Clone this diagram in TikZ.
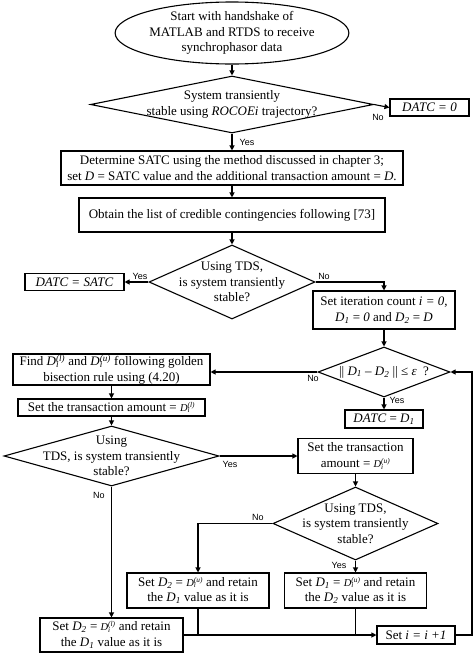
\documentclass[tikz,border=0pt]{standalone}
\usepackage{fontspec}
\setmainfont{Liberation Serif}
\newfontfamily\labfont{Liberation Sans}
\usetikzlibrary{shapes.geometric,arrows.meta}
\newcommand\DD[1]{\textit{D}\textsubscript{\textit{#1}}}
\newcommand\Di[1]{\textit{D}\rlap{\textsubscript{\textit{i}}}\textsuperscript{\textit{(#1)}}}
\newcommand\Dis[1]{{\fontsize{10.5}{12}\selectfont\Di{#1}}}
\tikzset{
  base/.style={draw=black, line width=1.1pt, inner sep=0pt, align=center,
    font=\fontsize{13}{15.5}\selectfont},
  boxn/.style={base, rectangle},
  ell/.style={base, ellipse},
  dia/.style={draw=black, line width=1.1pt, diamond, inner sep=0pt},
  txt/.style={inner sep=0pt, align=center, font=\fontsize{13}{15.5}\selectfont},
  lab/.style={inner sep=0pt, font=\labfont\fontsize{9}{10}\selectfont},
  arr/.style={line width=1.1pt, -{Triangle[length=5pt,width=5pt]}},
  ln/.style={line width=1.1pt},
}
\begin{document}
\begin{tikzpicture}[x=1pt,y=-1pt]
\useasboundingbox (0,0) rectangle (474,654);
% nodes
\node[ell, minimum width=210pt, minimum height=62pt] (start) at (232,33)
  {Start with handshake of\\MATLAB and RTDS to receive\\synchrophasor data};
\node[dia, minimum width=283pt, minimum height=57pt] (d1) at (232,104.5) {};
\node[txt] (t1) at (232,104.5) {System transiently\\stable using \textit{ROCOEi} trajectory?};
\node[boxn, minimum width=79pt, minimum height=17pt] (datc0) at (429.5,107.5) {\textit{DATC = 0}};
\node[boxn, minimum width=342pt, minimum height=34pt] (satc) at (232,168)
  {Determine SATC using the method discussed in chapter 3;\\set \textit{D} = SATC value and the additional transaction amount = \textit{D}.};
\node[boxn, minimum width=306pt, minimum height=34pt] (list) at (232,215)
  {Obtain the list of credible contingencies following [73]};
\node[dia, minimum width=166pt, minimum height=74pt] (d2) at (232,282) {};
\node[txt] (t2) at (232,282) {Using TDS,\\is system transiently\\stable?};
\node[boxn, minimum width=99pt, minimum height=17pt] (datcsatc) at (74.5,282) {\textit{DATC = SATC}};
\node[boxn, minimum width=142pt, minimum height=38pt] (iter) at (384,310)
  {Set iteration count \textit{i = 0},\\\DD{1} = \textit{0} and \DD{2} = \textit{D}};
\node[dia, minimum width=132pt, minimum height=50pt] (d3) at (384,372) {};
\node[txt] (t3) at (384,372) {|| \DD{1} -- \DD{2} || ≤ \textit{ε}\ \ ?};
\node[boxn, minimum width=78pt, minimum height=18pt] (datcd1) at (384,419) {\textit{DATC} = \DD{1}};
\node[boxn, minimum width=197pt, minimum height=31pt] (find) at (111.5,369.5)
  {Find \Di{l} and \Di{u} following golden\\bisection rule using (4.20)};
\node[boxn, minimum width=187pt, minimum height=17pt] (setl) at (111.5,407.5)
  {Set the transaction amount = \Dis{l}};
\node[dia, minimum width=215pt, minimum height=60pt] (d4) at (111.5,456) {};
\node[txt] (t4) at (111.5,456) {Using\\TDS, is system transiently\\stable?};
\node[boxn, minimum width=115pt, minimum height=35pt] (setu) at (355.5,456)
  {Set the transaction\\amount = \Dis{u}};
\node[dia, minimum width=165pt, minimum height=73pt] (d5) at (355.5,523.5) {};
\node[txt] (t5) at (355.5,523.5) {Using TDS,\\is system transiently\\stable?};
\node[boxn, minimum width=142pt, minimum height=35pt] (setd2u) at (198,590.5)
  {Set \DD{2} = \Dis{u} and retain\\the \DD{1} value as it is};
\node[boxn, minimum width=142pt, minimum height=35pt] (setd1u) at (355.5,590.5)
  {Set \DD{1} = \Dis{u} and retain\\the \DD{2} value as it is};
\node[boxn, minimum width=143pt, minimum height=34pt] (setd2l) at (111.5,635)
  {Set \DD{2} = \Dis{l} and retain\\the \DD{1} value as it is};
\node[boxn, minimum width=78pt, minimum height=18pt] (seti) at (416,635) {Set \textit{i = i +1}};
\coordinate (loop) at (472,635);
% labels
\node[lab] (l1) at (378,117) {No};
\node[lab] (l2) at (247,142) {Yes};
\node[lab] (l3) at (140,276) {Yes};
\node[lab] (l4) at (324,276) {No};
\node[lab] (l5) at (313,378) {No};
\node[lab] (l6) at (397,400) {Yes};
\node[lab] (l7) at (230,464) {Yes};
\node[lab] (l8) at (99,495) {No};
\node[lab] (l9) at (258,517) {No};
\node[lab] (l10) at (339,565) {Yes};
% connectors
\draw[arr] (start.south) -- (d1.north);
\draw[arr] (d1.east) -- (datc0.west);
\draw[arr] (d1.south) -- (satc.north);
\draw[arr] (satc.south) -- (list.north);
\draw[arr] (list.south) -- (d2.north);
\draw[arr] (d2.west) -- (datcsatc.east);
\draw[arr] (d2.east) -| (iter.north);
\draw[arr] (iter.south) -- (d3.north);
\draw[arr] (d3.west) -- (d3.west -| find.east);
\draw[arr] (d3.south) -- (datcd1.north);
\draw[arr] (find.south) -- (setl.north);
\draw[arr] (setl.south) -- (d4.north);
\draw[arr] (d4.east) -- (setu.west);
\draw[arr] (setu.south) -- (d5.north);
\draw[arr] (d5.west) -| (setd2u.north);
\draw[arr] (d5.south) -- (setd1u.north);
\draw[arr] (d4.south) -- (setd2l.north);
\draw[arr] (setd2l.east) -- (seti.west);
\draw[ln] (setd2u.south) -- (setd2u.south |- seti.west);
\draw[ln] (setd1u.south) -- (setd1u.south |- seti.west);
\draw[arr] (seti.east) -- (loop) |- (d3.east);
\end{tikzpicture}
\end{document}
